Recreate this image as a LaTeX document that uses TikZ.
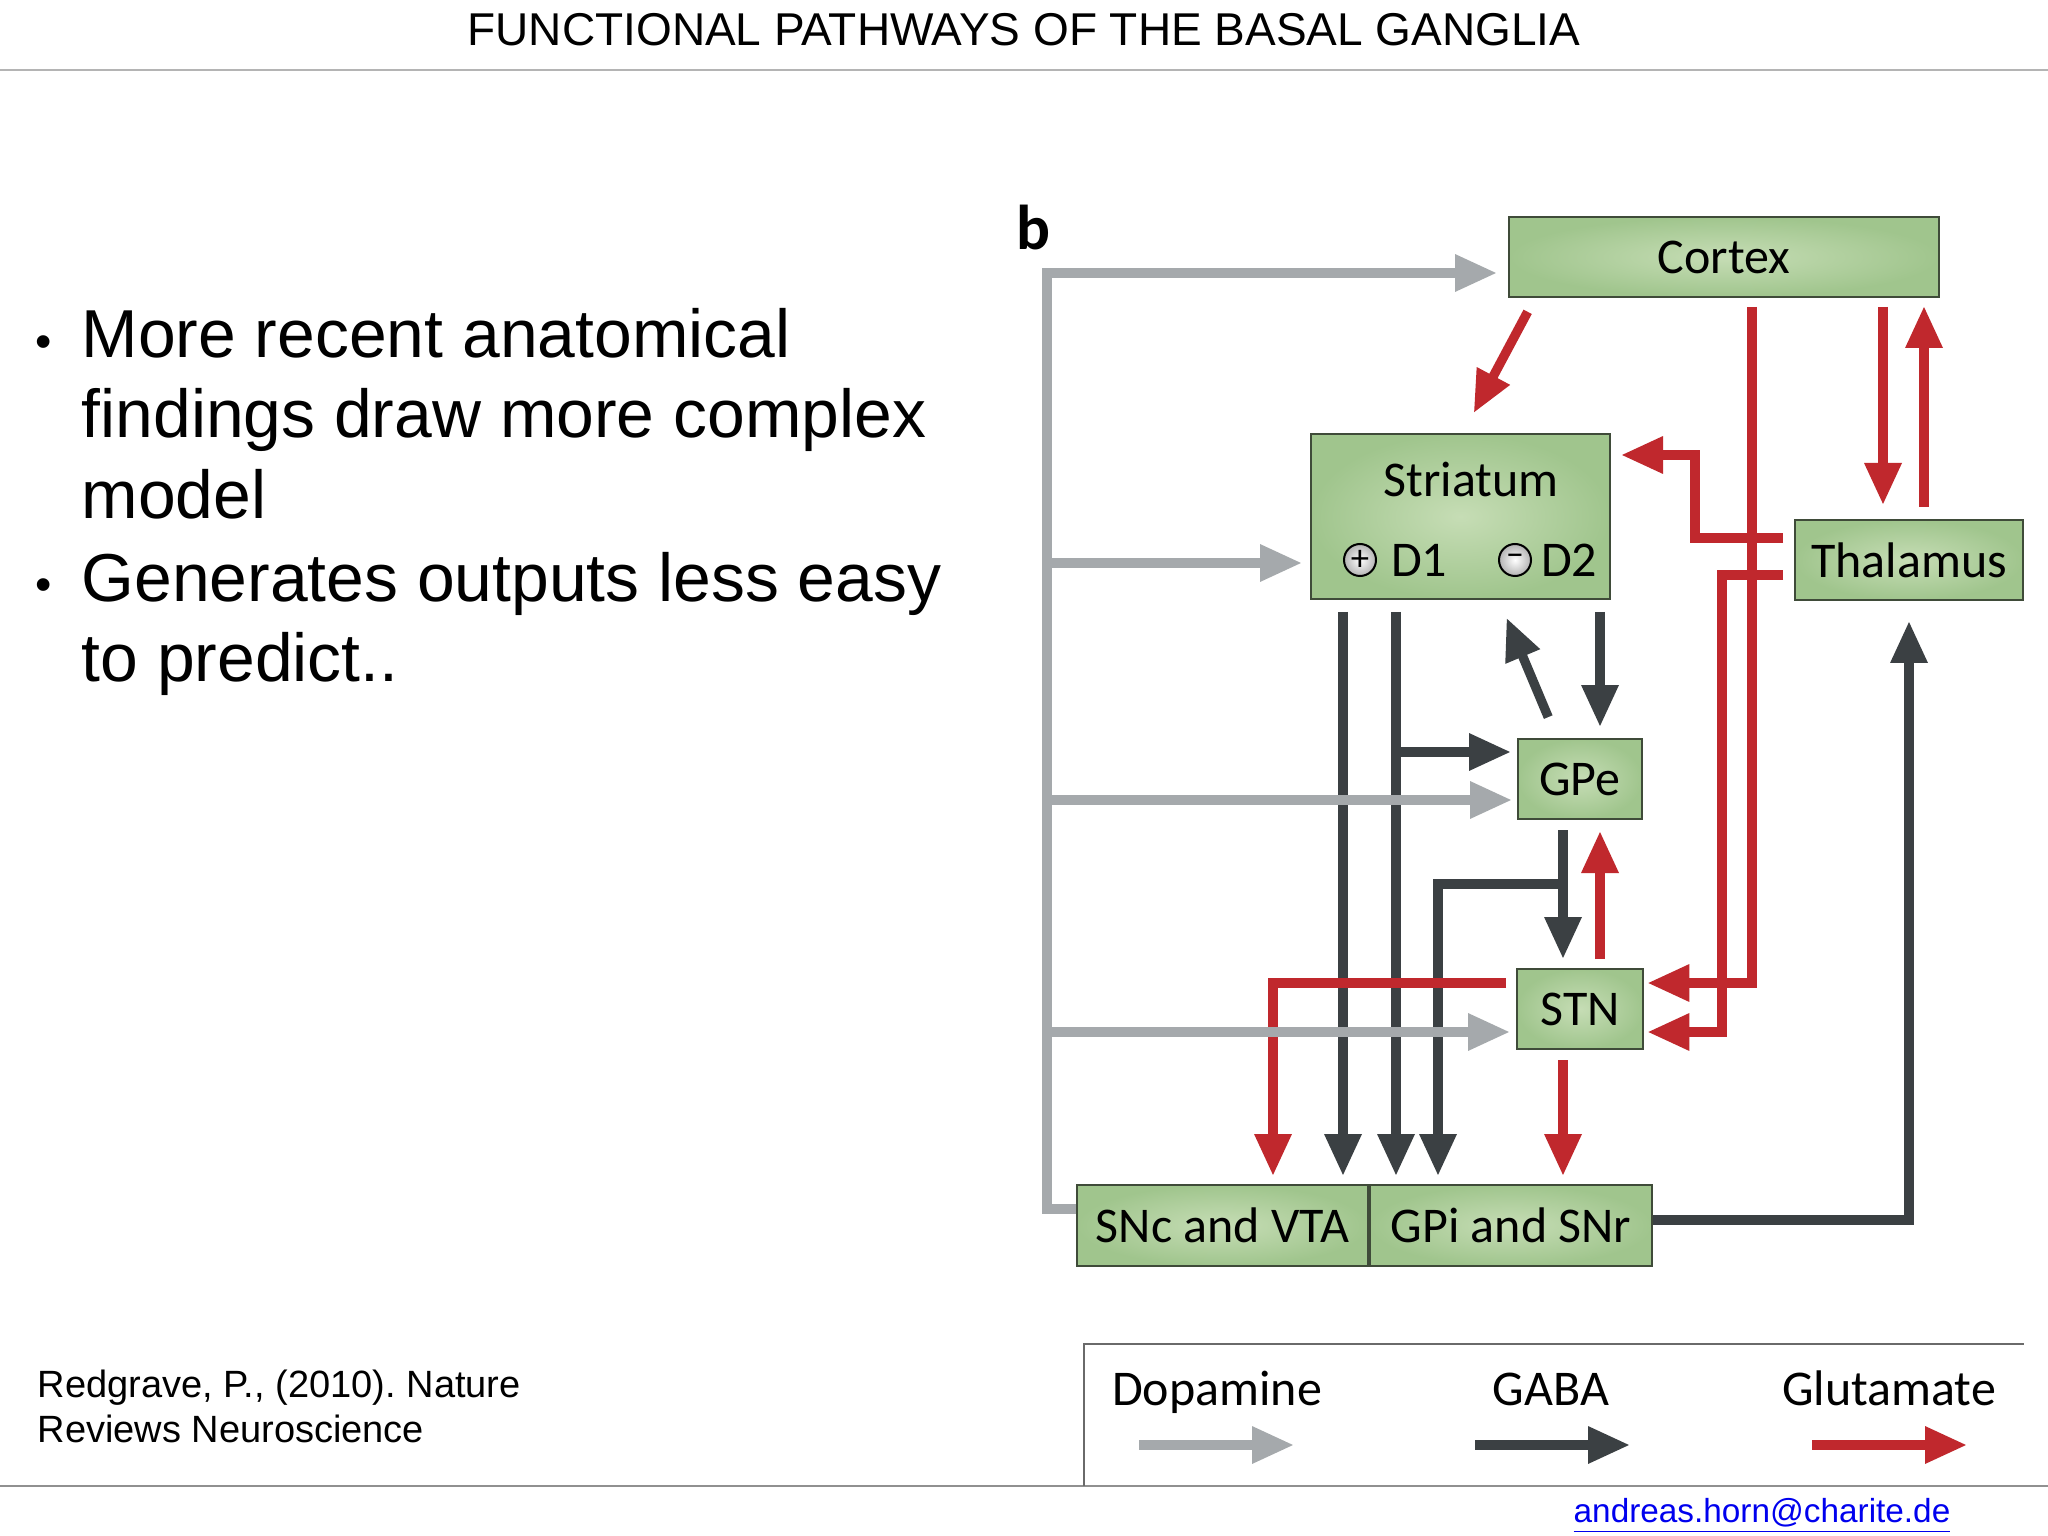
\documentclass[tikz,border=0pt]{standalone}
\usepackage{fontspec}
\setmainfont{Liberation Sans}
\newfontfamily\diagfont{Carlito}
\usepackage{tikz}
\usetikzlibrary{arrows.meta,positioning}
\frenchspacing
\definecolor{dopagray}{HTML}{A5A9AC}
\definecolor{gabadark}{HTML}{3B4043}
\definecolor{glutred}{HTML}{C0282D}
\definecolor{boxgreen}{HTML}{A0C58D}
\definecolor{boxlight}{HTML}{C6DDB5}
\definecolor{boxline}{HTML}{3F4B39}
\definecolor{rulegray}{HTML}{B4B4B4}
\definecolor{legendgray}{HTML}{6A6A6A}
\definecolor{linkblue}{HTML}{0000EE}
\tikzset{
  regionbox/.style={
    rectangle, draw=boxline, line width=0.6pt,
    inner color=boxlight, outer color=boxgreen,
    font=\diagfont\fontsize{15}{17}\selectfont,
    inner sep=0pt
  },
  boxlabel/.style={font=\diagfont\fontsize{15}{17}\selectfont, inner sep=0pt},
  receptor/.style={
    circle, draw=black, line width=0.6pt,
    inner color=white, outer color=black!30,
    minimum size=9.6pt, inner sep=0pt,
    font=\diagfont\fontsize{11}{11}\selectfont
  },
  pathway/.style={
    -{Triangle[length=12.6pt,width=10.5pt]}, line width=2.8pt, draw=#1,
    shorten <=3.6pt, shorten >=2.4pt
  },
  pathway/.default=gabadark,
  bullettext/.style={font=\fontsize{20.35}{24.3}\selectfont, align=left, inner sep=0pt},
  bulletdot/.style={font=\fontsize{14}{14}\selectfont, inner sep=0pt},
  legendlabel/.style={font=\diagfont\fontsize{15}{17}\selectfont, inner sep=0pt},
}

\begin{document}
\begin{tikzpicture}[x=0.3pt, y=-0.3pt]
  \path[use as bounding box, fill=white] (0,0) rectangle (2048,1536);

  % slide frame
  \node[font=\fontsize{13.8}{16}\selectfont, anchor=base, inner sep=0pt] (title) at (1024,46)
    {FUNCTIONAL PATHWAYS OF THE BASAL GANGLIA};
  \draw[rulegray, line width=0.7pt] (0,70) -- (2048,70);
  \draw[rulegray!80!black, line width=0.6pt] (0,1486) -- (2048,1486);

  \node[bulletdot] (dot1) at (44,347) {•};
  \node[bullettext, anchor=base west] (item1) at (81,519)
    {More recent anatomical\\findings draw more complex\\model};
  \node[bulletdot] (dot2) at (44,590) {•};
  \node[bullettext, anchor=base west] (item2) at (81,682)
    {Generates outputs less easy\\to predict..};

  \node[font=\fontsize{11.4}{13.5}\selectfont, align=left, inner sep=0pt, anchor=base west] (ref)
    at (37,1442) {Redgrave, P., (2010). Nature\\Reviews Neuroscience};
  \node[font=\fontsize{10}{12}\selectfont, text=linkblue, inner sep=0pt, anchor=base west] (mail)
    at (1573,1522) {\underline{andreas.horn@charite.de}};

  % diagram
  \node[font=\diagfont\bfseries\fontsize{19}{21}\selectfont, anchor=base west, inner sep=0pt]
    (panel) at (1016,250) {b};

  \node[regionbox, minimum width=129pt, minimum height=24pt] (cortex) at (1724,257) {Cortex};
  \node[regionbox, minimum width=89.7pt, minimum height=49.5pt] (str) at (1460.5,516.5) {};
  \node[boxlabel] (strlabel) at (1471,479) {Striatum};
  \node[receptor] (dplus) at (1360,560) {+};
  \node[boxlabel, right=4pt of dplus] (d1) {D1};
  \node[receptor] (dminus) at (1515,560) {–};
  \node[boxlabel, right=2.5pt of dminus] (d2) {D2};
  \node[regionbox, minimum width=68.4pt, minimum height=24pt] (thal) at (1909,560) {Thalamus};
  \node[regionbox, minimum width=37.2pt, minimum height=24pt] (gpe) at (1580,779) {GPe};
  \node[regionbox, minimum width=37.8pt, minimum height=24pt] (stn) at (1580,1009) {STN};
  \node[regionbox, minimum width=87.3pt, minimum height=24.3pt] (snc) at (1222.5,1225.5) {SNc and VTA};
  \node[regionbox, minimum width=84.6pt, minimum height=24.3pt, right=0pt of snc] (gpi) {GPi and SNr};

  % GABA
  \draw[pathway] (str.south -| 1343,0) -- (snc.north -| 1343,0);
  \draw[pathway] (str.south -| 1396,0) -- (snc.north -| 1396,0);
  \coordinate (dfork) at (1396,752);
  \draw[pathway, shorten <=0pt, shorten >=1.8pt] (dfork) -- (gpe.west |- dfork);
  \draw[pathway, shorten <=6.8pt, shorten >=5.8pt] (gpe.north -| 1557,0) -- (str.south -| 1499,0);
  \draw[pathway, shorten >=3.3pt] (str.south -| 1600,0) -- (gpe.north -| 1600,0);
  \draw[pathway, shorten <=3pt, shorten >=2.7pt] (gpe.south -| 1563,0) -- (stn.north -| 1563,0);
  \coordinate (gfork) at (1563,884);
  \draw[pathway, shorten <=0pt] (gfork) -| (snc.north -| 1438,0);
  \draw[pathway, shorten <=0pt, shorten >=6pt] (gpi.east |- 0,1220) -| (thal.south);

  % glutamate
  \draw[pathway=glutred, shorten <=4.7pt, shorten >=6.8pt] (cortex.south -| 1535,0) -- (str.north -| 1463,0);
  \draw[pathway=glutred, shorten <=2.7pt, shorten >=1pt] (cortex.south -| 1752,0) |- (stn.east |- 0,983);
  \draw[pathway=glutred, shorten <=2.7pt, shorten >=4.2pt] (cortex.south -| 1883,0) -- (thal.north -| 1883,0);
  \draw[pathway=glutred] (thal.north -| 1924,0) -- (cortex.south -| 1924,0);
  \draw[pathway=glutred, shorten <=3.3pt, shorten >=3pt] (thal.west |- 0,538) -| (1695,455) -- (str.east |- 0,455);
  \draw[pathway=glutred, shorten <=3.3pt, shorten >=1pt] (thal.west |- 0,575) -| (1722,1032) -- (stn.east |- 0,1032);
  \draw[pathway=glutred, shorten <=2.7pt, shorten >=3.3pt] (stn.north -| 1600,0) -- (gpe.south -| 1600,0);
  \draw[pathway=glutred, shorten <=3pt] (stn.west |- 0,983) -| (snc.north -| 1273,0);
  \draw[pathway=glutred, shorten <=3pt] (stn.south -| 1563,0) -- (gpi.north -| 1563,0);

  % dopamine
  \coordinate (dspine) at (1047,273);
  \draw[pathway=dopagray, shorten <=0pt, shorten >=3.3pt] (snc.west |- 0,1209) -| (dspine) -- (cortex.west |- dspine);
  \draw[pathway=dopagray, shorten <=0pt] (dspine |- 0,563) -- (str.west |- 0,563);
  \draw[pathway=dopagray, shorten <=0pt, shorten >=1.5pt] (dspine |- 0,800) -- (gpe.west |- 0,800);
  \draw[pathway=dopagray, shorten <=0pt, shorten >=1.8pt] (dspine |- 0,1032) -- (stn.west |- 0,1032);

  % legend
  \draw[legendgray, line width=0.6pt] (1084,1486) |- (2024,1344);
  \node[legendlabel, anchor=base] (ldopa) at (1217,1405) {Dopamine};
  \node[legendlabel, anchor=base] (lgaba) at (1551,1405) {GABA};
  \node[legendlabel, anchor=base] (lglut) at (1889,1405) {Glutamate};
  \draw[pathway=dopagray, shorten <=0pt, shorten >=0pt] (1139,1445) -- (1294,1445);
  \draw[pathway, shorten <=0pt, shorten >=0pt] (1475,1445) -- (1630,1445);
  \draw[pathway=glutred, shorten <=0pt, shorten >=0pt] (1812,1445) -- (1967,1445);
\end{tikzpicture}
\end{document}
